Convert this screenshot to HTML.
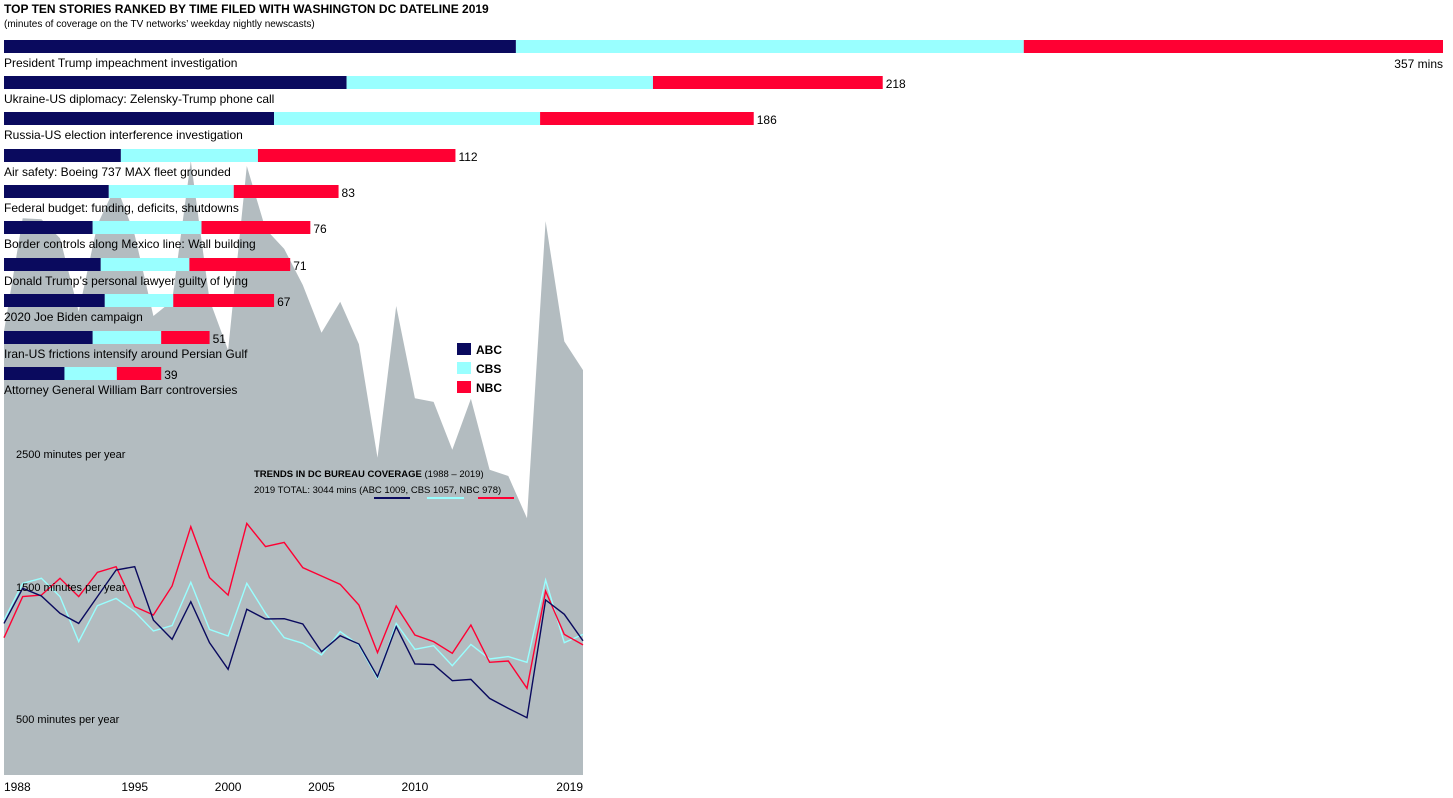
<!DOCTYPE html>
<html><head><meta charset="utf-8">
<style>
body{margin:0;background:#fff;}
svg{display:block;font-family:"Liberation Sans",sans-serif;}
</style></head>
<body>
<svg id="chart" width="1453" height="798" viewBox="0 0 1453 798">
<g id="area-layer"></g>
<g id="bar-layer"></g>
<text x="4" y="13" font-size="12" font-weight="bold">TOP TEN STORIES RANKED BY TIME FILED WITH WASHINGTON DC DATELINE 2019</text>
<text x="4" y="27" font-size="10">(minutes of coverage on the TV networks’ weekday nightly newscasts)</text>
<g>
<rect x="457" y="343" width="14" height="12" fill="#0a0a5e"/>
<text x="476" y="354" font-size="12" font-weight="bold">ABC</text>
<rect x="457" y="362" width="14" height="12" fill="#99ffff"/>
<text x="476" y="373" font-size="12" font-weight="bold">CBS</text>
<rect x="457" y="381" width="14" height="12" fill="#ff0033"/>
<text x="476" y="392" font-size="12" font-weight="bold">NBC</text>
</g>
<text x="254" y="477" font-size="9.5"><tspan font-weight="bold">TRENDS IN DC BUREAU COVERAGE</tspan> (1988 – 2019)</text>
<text x="254" y="493" font-size="9.5">2019 TOTAL: 3044 mins (ABC 1009, CBS 1057, NBC 978)</text>
<line x1="374" y1="498" x2="410" y2="498" stroke="#0a0a5e" stroke-width="2"/>
<line x1="427" y1="498" x2="464" y2="498" stroke="#99ffff" stroke-width="2"/>
<line x1="478" y1="498" x2="514" y2="498" stroke="#ff0033" stroke-width="2"/>
<text x="16" y="458" font-size="11">2500 minutes per year</text>
<text x="16" y="591" font-size="11">1500 minutes per year</text>
<text x="16" y="723" font-size="11">500 minutes per year</text>
<g id="xaxis"></g>
</svg>
<script>
const years = [];
for (let y = 1988; y <= 2019; y++) years.push(y);
const abc = [1140,1404,1346,1216,1140,1341,1541,1566,1165,1020,1303,995,795,1246,1173,1175,1135,927,1047,985,739,1115,835,830,709,719,576,501,431,1316,1208,1009];
const cbs = [1165,1441,1479,1341,1003,1273,1328,1228,1083,1123,1449,1095,1045,1441,1216,1032,990,902,1078,977,727,1140,945,972,822,982,872,890,847,1466,995,1057];
const nbc = [1032,1341,1353,1479,1341,1524,1566,1266,1203,1421,1867,1484,1353,1892,1717,1749,1559,1496,1434,1278,920,1271,1053,1003,915,1128,847,857,652,1383,1057,978];
const tickYears = [1988,1995,2000,2005,2010,2019];

const stories = ["President Trump impeachment investigation","Ukraine-US diplomacy: Zelensky-Trump phone call","Russia-US election interference investigation","Air safety: Boeing 737 MAX fleet grounded","Federal budget: funding, deficits, shutdowns","Border controls along Mexico line: Wall building","Donald Trump’s personal lawyer guilty of lying","2020 Joe Biden campaign","Iran-US frictions intensify around Persian Gulf","Attorney General William Barr controversies"];
const storyAbc = [127,85,67,29,26,22,24,25,22,15];
const storyCbs = [126,76,66,34,31,27,22,17,17,13];
const storyNbc = [104,57,53,49,26,27,25,25,12,11];

const NS = "http://www.w3.org/2000/svg";
function mk(tag, attrs, parent){const e=document.createElementNS(NS,tag);for(const k in attrs)e.setAttribute(k,attrs[k]);parent.appendChild(e);return e;}
const xS = y => 4 + (y - 1988) * (579 / 31);
const yS = v => 775 - v * 0.133;
const bx = v => 4 + v * (1439 / 357);

// area
const area = document.getElementById('area-layer');
let d = "M" + xS(years[0]) + "," + yS(0);
years.forEach((y,i)=>{ d += " L" + xS(y).toFixed(1) + "," + yS(abc[i]+cbs[i]+nbc[i]).toFixed(1); });
d += " L" + xS(years[years.length-1]) + "," + yS(0) + " Z";
const ap = mk('path',{d:d,fill:"#b3bcc0"},area);


[[cbs,"#99ffff","cbs-line"],[nbc,"#ff0033","nbc-line"],[abc,"#0a0a5e","abc-line"]].forEach(([s,c,n])=>{
  const pts = years.map((y,i)=>xS(y).toFixed(1)+","+yS(s[i]).toFixed(1)).join(" ");
  const pl = mk('polyline',{points:pts,fill:"none",stroke:c,"stroke-width":1.4},area);
  
  
});

// x axis
const xa = document.getElementById('xaxis');
tickYears.forEach((y,i)=>{
  const anchor = i===0 ? "start" : (i===tickYears.length-1 ? "end" : "middle");
  const t = mk('text',{x:xS(y), y:791, "font-size":12, "text-anchor":anchor},xa);
  t.textContent = y;
  
  
});

// bars
const bl = document.getElementById('bar-layer');
const rowY = [40,76,112,149,185,221,258,294,331,367];
stories.forEach((s,i)=>{
  const top = rowY[i];
  const a = storyAbc[i], c = storyCbs[i], n = storyNbc[i];
  const r1 = mk('rect',{x:bx(0),y:top,width:bx(a)-bx(0),height:13,fill:"#0a0a5e"},bl);
  
  
  const r2 = mk('rect',{x:bx(a),y:top,width:bx(a+c)-bx(a),height:13,fill:"#99ffff"},bl);
  
  
  const r3 = mk('rect',{x:bx(a+c),y:top,width:bx(a+c+n)-bx(a+c),height:13,fill:"#ff0033"},bl);
  
  
  const lab = mk('text',{x:4,y:top+27,"font-size":12},bl);
  lab.textContent = s;
  
  
  const total = a+c+n;
  let v;
  if (i===0) { v = mk('text',{x:1443,y:top+28,"font-size":12,"text-anchor":"end"},bl); v.textContent = total + " mins"; }
  else { v = mk('text',{x:bx(total)+3,y:top+12,"font-size":12},bl); v.textContent = total; }
  
  
});
</script>
</body></html>
